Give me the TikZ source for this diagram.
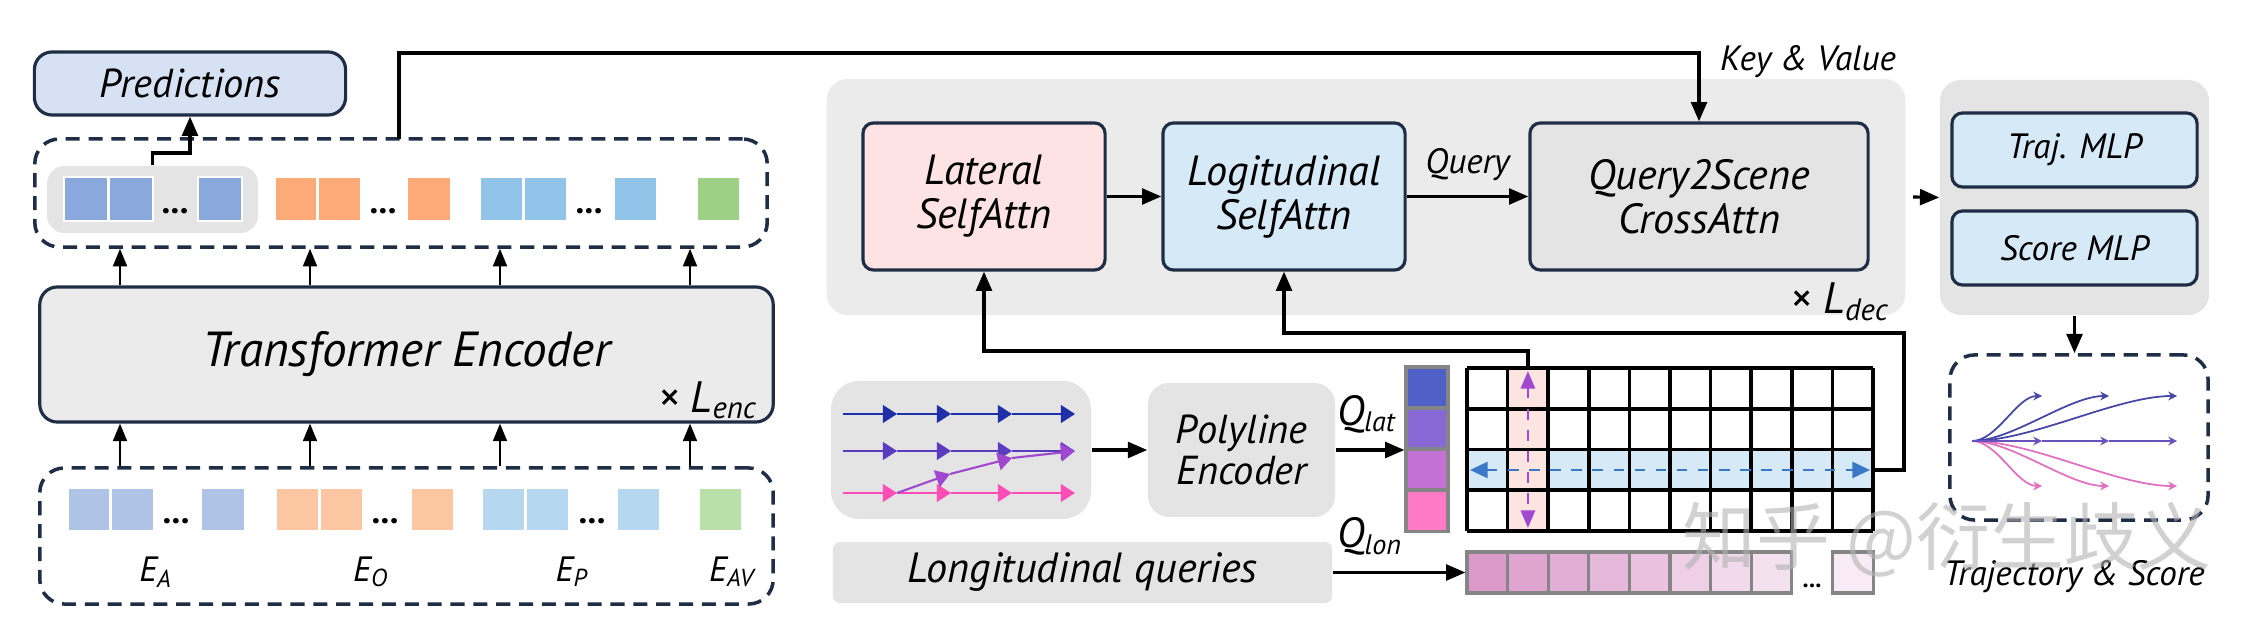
\documentclass[tikz,border=0pt]{standalone}
\usepackage{fontspec}
\setmainfont{PT Sans}
\newfontfamily\cjk{Noto Sans CJK SC}
\usetikzlibrary{arrows.meta}
\usetikzlibrary{positioning}
\definecolor{navy}{HTML}{1F2D45}
\definecolor{panel}{HTML}{EBEBEB}
\definecolor{panelb}{HTML}{E4E4E4}
\definecolor{predfill}{HTML}{D6E2F3}
\definecolor{attnblue}{HTML}{D6E9F7}
\definecolor{attnpink}{HTML}{FDE3E3}
\definecolor{tokblue}{HTML}{89A8DC}
\definecolor{tokorange}{HTML}{FCAA78}
\definecolor{toksky}{HTML}{92C3E8}
\definecolor{tokgreen}{HTML}{9DD084}
\definecolor{embblue}{HTML}{AEC3E6}
\definecolor{emborange}{HTML}{FCC6A2}
\definecolor{embsky}{HTML}{B6D7F0}
\definecolor{embgreen}{HTML}{B8E0A8}
\definecolor{laneblue}{HTML}{1F2FA8}
\definecolor{lanepurple}{HTML}{5B3BC0}
\definecolor{lanepink}{HTML}{FF4DB8}
\definecolor{laneviolet}{HTML}{A048D0}
\definecolor{gridpink}{HTML}{FCE4E1}
\definecolor{dashblue}{HTML}{3A78C8}
\definecolor{trajblue}{HTML}{4646A6}
\definecolor{trajmid}{HTML}{6A52BE}
\definecolor{trajpink}{HTML}{E070C0}
\definecolor{cellgray}{HTML}{858585}
\definecolor{qa}{HTML}{4F60C6}
\definecolor{qb}{HTML}{8768D4}
\definecolor{qc}{HTML}{C371D4}
\definecolor{qd}{HTML}{FF7AC6}
\definecolor{lonpink}{HTML}{DC9ACB}
\begin{document}
\begin{tikzpicture}[x=0.01cm, y=-0.01cm,
  box/.style={draw=navy, line width=0.9pt, rounded corners=3pt, inner sep=0pt, align=center},
  panelbox/.style={fill=panel, rounded corners=6pt, inner sep=0pt, align=center},
  dashbox/.style={draw=navy, line width=1pt, dash pattern=on 4pt off 2.5pt, rounded corners=7pt, inner sep=0pt},
  tok/.style={draw=white, line width=0.8pt, minimum width=0.44cm, minimum height=0.44cm, inner sep=0pt},
  ellip/.style={font=\bfseries\fontsize{10}{10}\selectfont, inner sep=0pt},
  cell/.style={draw=cellgray, line width=0.9pt, minimum width=0.42cm, minimum height=0.41cm, inner sep=0pt},
  lbl/.style={font=\itshape\fontsize{10}{11}\selectfont, inner sep=1pt},
  big/.style={font=\itshape\fontsize{12}{12.5}\selectfont},
  arr/.style={-{Triangle[length=5pt,width=4pt]}, line width=0.5pt},
  bigarr/.style={-{Triangle[length=5.5pt,width=4.5pt]}, line width=0.9pt},
  lane/.style={line width=0.6pt, -{Triangle[length=4pt,width=5pt]}},
  traj/.style={line width=0.5pt, -{Stealth[length=2.5pt,width=2.5pt]}}]
\useasboundingbox (0,0) rectangle (2246,634);

\node[box, font=\itshape\fontsize{11.5}{12}\selectfont, fill=predfill, rounded corners=5pt, minimum width=3.11cm, minimum height=0.63cm] (pred) at (190,83.5) {Predictions};
\node[dashbox, minimum width=7.32cm, minimum height=1.08cm] (enctok) at (401,193) {};
\node[panelbox, fill=panelb, rounded corners=5pt, minimum width=2.11cm, minimum height=0.67cm] (agentgrp) at (152.5,199.5) {};
\foreach \x/\c [count=\i] in {86/tokblue, 131/tokblue, 220/tokblue, 296.5/tokorange, 339.5/tokorange, 429/tokorange, 502/toksky, 545.5/toksky, 635.5/toksky, 718.5/tokgreen}
  \node[tok, fill=\c] (out\i) at (\x,199) {};
\foreach \x [count=\i] in {175,383,589}
  \node[ellip] (outdots\i) at (\x,211) {...};
\coordinate (predbend) at (152.5,153);
\draw[bigarr] (agentgrp.north) -- (predbend) -| (pred.south);

\node[box, fill=panel, rounded corners=5pt, minimum width=7.33cm, minimum height=1.35cm, font=\itshape\fontsize{14}{14}\selectfont] (enc) at (406.5,354.5) {Transformer Encoder};
\node[font=\itshape\fontsize{12.5}{12.5}\selectfont, anchor=east] (lenc) at (770,400) {× L\textsubscript{enc}};
\node[dashbox, minimum width=7.33cm, minimum height=1.36cm] (embbox) at (406.5,536) {};
\foreach \x/\c [count=\i] in {89.5/embblue, 132.5/embblue, 223/embblue, 298/emborange, 341.5/emborange, 432.5/emborange, 504/embsky, 547.5/embsky, 638.5/embsky, 720.5/embgreen}
  \node[tok, fill=\c] (emb\i) at (\x,509.5) {};
\foreach \x [count=\i] in {176,385,592}
  \node[ellip] (embdots\i) at (\x,521) {...};
\node[lbl] (ea) at (156,572) {E\textsubscript{A}};
\node[lbl] (eo) at (371,572) {E\textsubscript{O}};
\node[lbl] (ep) at (572,572) {E\textsubscript{P}};
\node[lbl] (eav) at (732,572) {E\textsubscript{AV}};
\foreach \x [count=\i] in {120,310,500,690} {
  \coordinate (col\i) at (\x,0);
  \draw[arr] (enc.north -| col\i) -- (enctok.south -| col\i);
  \draw[arr] (embbox.north -| col\i) -- (enc.south -| col\i);
}

\node[panelbox, minimum width=10.78cm, minimum height=2.36cm] (dec) at (1366,197) {};
\node[box, big, fill=attnpink, minimum width=2.42cm, minimum height=1.47cm] (lat) at (984,196.5) {Lateral\\SelfAttn};
\node[box, big, fill=attnblue, minimum width=2.42cm, minimum height=1.47cm] (lon) at (1284,196.5) {Logitudinal\\SelfAttn};
\node[box, big, fill=panelb, minimum width=3.38cm, minimum height=1.47cm] (q2s) at (1699,196.5) {Query2Scene\\CrossAttn};
\draw[bigarr] (lat) -- (lon);
\draw[bigarr] (lon) -- node[lbl, above=3pt] (qlbl) {Query} (q2s);
\node[font=\itshape\fontsize{12.5}{12.5}\selectfont, anchor=east] (ldec) at (1902,302) {× L\textsubscript{dec}};
\coordinate (kvfoot) at (399,139);
\coordinate (kvtop) at (1699,53);
\draw[bigarr] (kvfoot) |- (kvtop) -- (q2s.north);
\node[lbl, anchor=west] (kv) at (1716,62) {Key \& Value};

\node[panelbox, fill=panelb, minimum width=2.69cm, minimum height=2.35cm] (head) at (2074.5,197.5) {};
\node[box, font=\itshape\fontsize{10}{10}\selectfont, fill=attnblue, minimum width=2.45cm, minimum height=0.74cm] (trajmlp) at (2074.5,150) {Traj. MLP};
\node[box, font=\itshape\fontsize{10}{10}\selectfont, fill=attnblue, minimum width=2.45cm, minimum height=0.74cm] (scoremlp) at (2074.5,248) {Score MLP};
\draw[bigarr] ([xshift=2pt]dec.east) -- (head.west);

\node[dashbox, minimum width=2.58cm, minimum height=1.65cm] (trajbox) at (2079,437.5) {};
\draw[bigarr] (head.south) -- (head.south |- trajbox.north);
\node[lbl] (trajlbl) at (2074,577) {Trajectory \& Score};
\coordinate (o) at (1972,441);
\foreach \ex/\c in {2042/25, 2109/40, 2177/60} {
  \draw[traj, trajblue] (o) .. controls (1972+\c,441) and (\ex-\c,396) .. (\ex,396);
  \draw[traj, trajpink] (o) .. controls (1972+\c,441) and (\ex-\c,486) .. (\ex,486);
}
\draw[traj, trajmid] (o) -- (2042,441);
\draw[traj, trajmid] (2042,441) -- (2109,441);
\draw[traj, trajmid] (2109,441) -- (2177,441);

\node[panelbox, fill=panelb, rounded corners=8pt, minimum width=2.60cm, minimum height=1.38cm] (scene) at (961,450) {};
\foreach \y/\c in {414/laneblue, 451/lanepurple, 493/lanepink}
  \foreach \a/\b in {843/897, 897/951, 951/1012, 1012/1075}
    \draw[lane, \c] (\a,\y) -- (\b,\y);
\draw[lane, laneviolet] (897,493) -- (950,474);
\draw[lane, laneviolet] (950,474) -- (1012,458);
\draw[lane, laneviolet] (1012,458) -- (1075,451);
\node[panelbox, fill=panelb, font=\itshape\fontsize{11.5}{11.8}\selectfont, minimum width=1.87cm, minimum height=1.34cm] (penc) at (1241.5,450) {Polyline\\Encoder};
\draw[bigarr] (scene) -- (penc);

\foreach \y/\c [count=\i] in {387.5/qa, 428.5/qb, 469.5/qc, 511/qd}
  \node[cell, fill=\c] (q\i) at (1427,\y) {};
\draw[bigarr] (penc.east) -- node[big, above=1pt, pos=0.45] (qlat) {Q\textsubscript{lat}} (penc.east -| q2.west);

\node[inner sep=0pt, minimum width=4.06cm, minimum height=1.63cm] (grid) at (1670,449.5) {};
\fill[attnblue] (1467,449.5) rectangle (1873,490.25);
\fill[gridpink] (1507.6,368) rectangle (1548.2,531);
\foreach \i in {0,...,10}
  \draw[line width=1pt] (1467+40.6*\i,368) -- (1467+40.6*\i,531);
\foreach \j in {0,...,4}
  \draw[line width=1pt] (1467,368+40.75*\j) -- (1873,368+40.75*\j);
\draw[laneviolet, dashed, line width=0.8pt, {Triangle[length=5pt,width=4pt]}-{Triangle[length=5pt,width=4pt]}] (1527.9,371) -- (1527.9,528);
\draw[dashblue, dashed, line width=0.8pt, {Triangle[length=5pt,width=4.5pt]}-{Triangle[length=5pt,width=4.5pt]}] (1470,470) -- (1870,470);
\coordinate (coltop) at (1527.9,368);
\coordinate (latbend) at (984,351);
\draw[bigarr] (coltop) |- (latbend) -- (lat.south);
\coordinate (rowend) at (1873,470);
\coordinate (lonbend) at (1904,333);
\draw[bigarr] (rowend) -| (lonbend) -| (lon.south);

\node[panelbox, fill=panelb, rounded corners=2pt, big, minimum width=4.99cm, minimum height=0.61cm] (lq) at (1082.5,572.5) {Longitudinal queries};
\foreach \k [count=\i from 0] in {100,90,80,70,60,48,38,30}
  \node[cell, minimum width=0.406cm, fill=lonpink!\k!white] (l\i) at (1487.3+40.6*\i,572.5) {};
\node[ellip, font=\bfseries\fontsize{7}{7}\selectfont] (ldots) at (1812,586) {...};
\node[cell, minimum width=0.406cm, fill=lonpink!20!white] (llast) at (1853,572.5) {};
\draw[bigarr] (lq.east) -- node[big, above=1pt, pos=0.28] (qlon) {Q\textsubscript{lon}} (l0.west);

\node[font=\cjk\fontsize{21}{21}\selectfont, text=gray!60, opacity=0.6] (wm) at (1947,540) {知乎 @衍生歧义};
\end{tikzpicture}
\end{document}
